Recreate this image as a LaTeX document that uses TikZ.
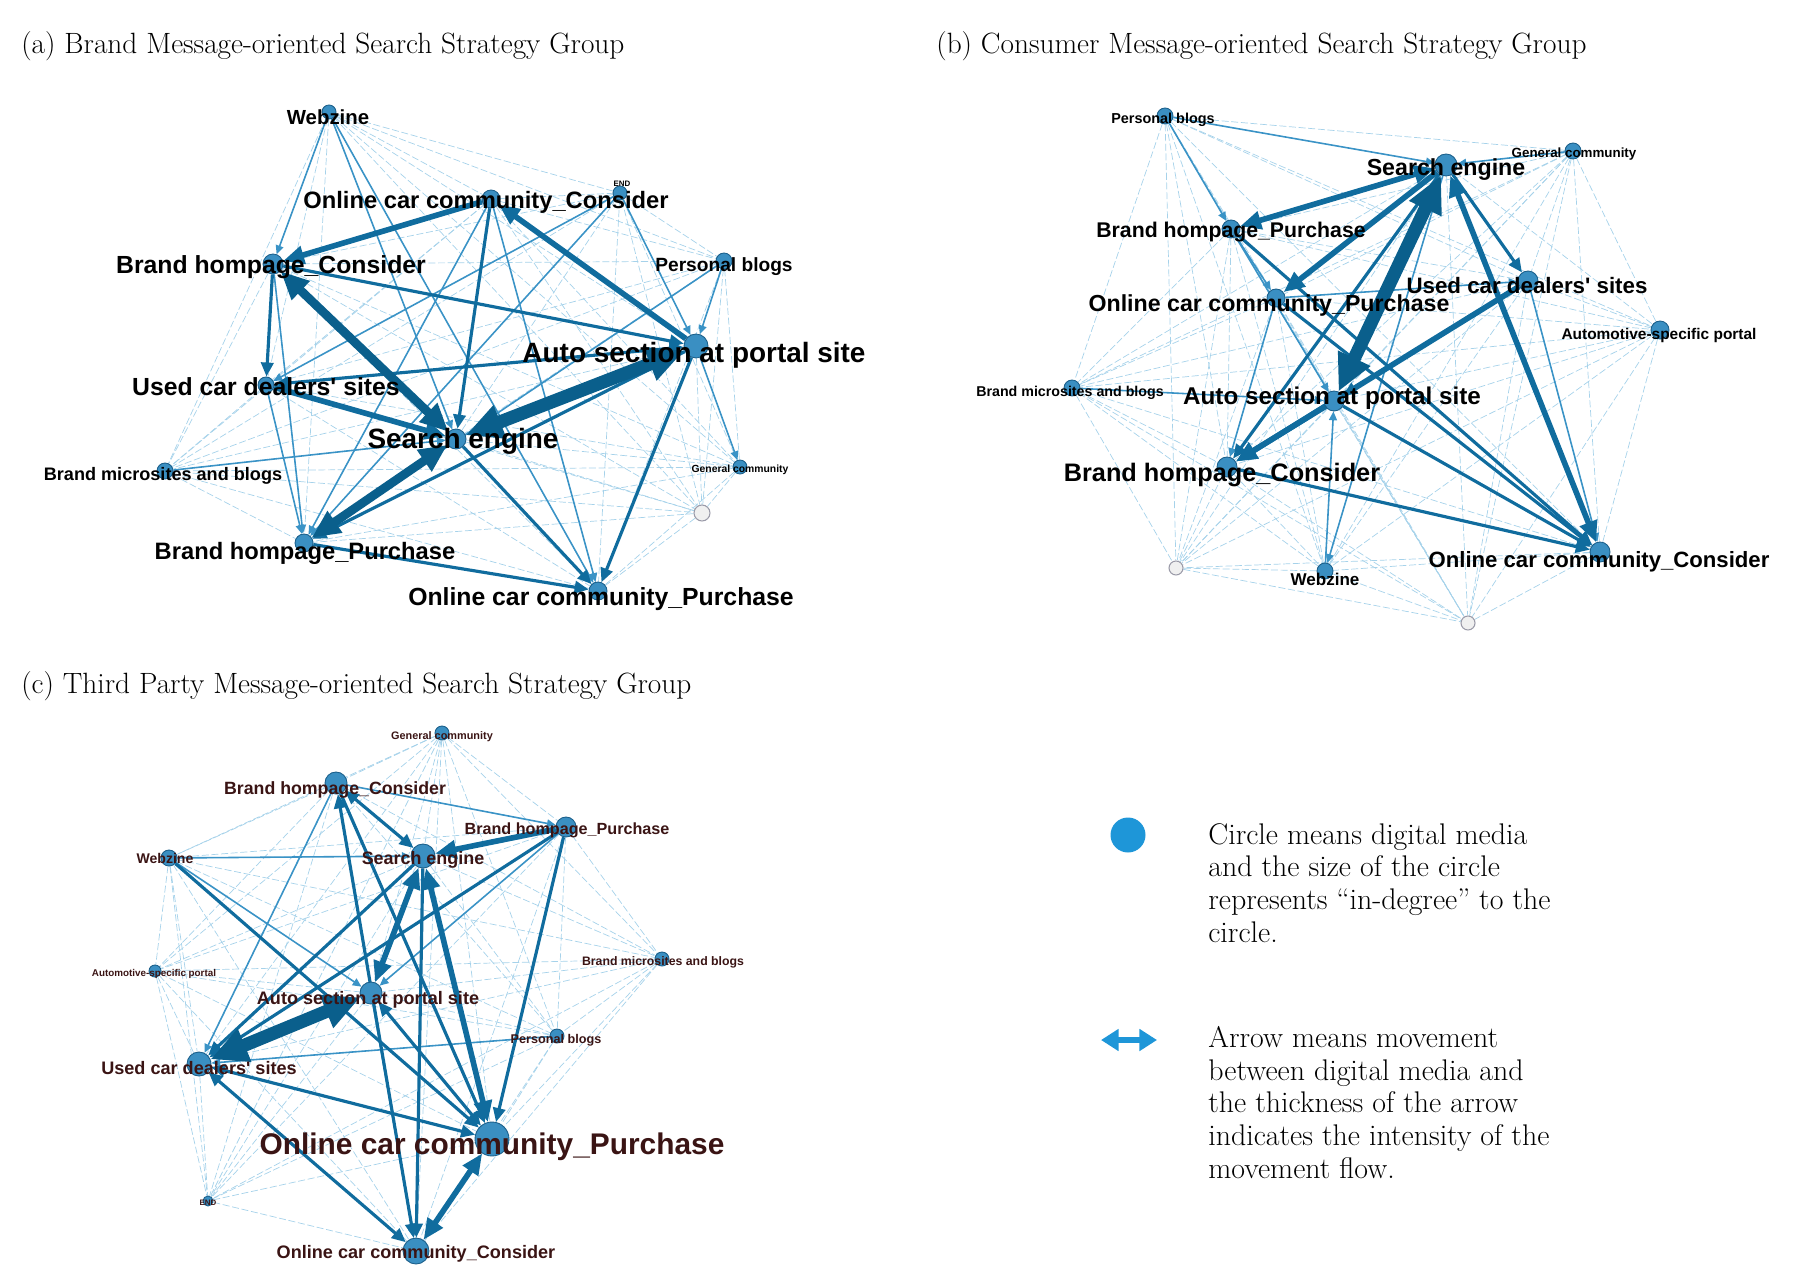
\documentclass[tikz,border=0pt]{standalone}
\usepackage{fontspec}
\newfontfamily\lblfont{Liberation Sans}
\usetikzlibrary{arrows.meta,backgrounds}
\definecolor{dotblue}{HTML}{3A8FC2}
\definecolor{dotedge}{HTML}{1B5F8A}
\definecolor{faintblue}{HTML}{A6D2EA}
\definecolor{midblue}{HTML}{3A93C6}
\definecolor{flowblue}{HTML}{106C9E}
\definecolor{darkflow}{HTML}{0A5F8C}
\definecolor{lblred}{HTML}{3A1414}
\definecolor{keyblue}{HTML}{1E96D8}
\definecolor{grayring}{HTML}{9A9AA8}
\tikzset{
  dot/.style={circle, fill=dotblue, draw=dotedge, line width=0.5pt, inner sep=0pt, minimum size=#1*0.02cm},
  ghost/.style={circle, fill=gray!12, draw=grayring, line width=0.6pt, inner sep=0pt, minimum size=#1*0.02cm},
  lbl/.style={font=\lblfont\bfseries\fontsize{#1}{#1}\selectfont, inner sep=0pt},
  lblc/.style={lbl=#1, text=lblred},
  ttl/.style={font=\fontsize{16.7}{19}\selectfont, inner sep=0pt},
  keytext/.style={anchor=north west, align=left, inner sep=0pt, font=\fontsize{17}{18.6}\selectfont},
  faint/.style={draw=faintblue, line width=0.4pt, dash pattern=on 4pt off 1.5pt},
  w1/.style={draw=midblue, line width=0.9pt, >={Triangle[length=5pt,width=4.5pt]}, ->},
  w2/.style={draw=flowblue, line width=1.8pt, >={Triangle[length=8pt,width=7pt]}, ->},
  w3/.style={draw=flowblue, line width=3.2pt, >={Triangle[length=12pt,width=10pt]}, ->},
  w4/.style={draw=darkflow, line width=5pt, >={Triangle[length=16pt,width=14pt]}, ->},
  w5/.style={draw=darkflow, line width=7.5pt, >={Triangle[length=21pt,width=19pt]}, ->},
}
\begin{document}
\begin{tikzpicture}[x=0.02cm, y=-0.02cm]
\useasboundingbox (0,0) rectangle (1811,1280);
% titles
\node[ttl, anchor=west] (ta) at (21,46) {(a) Brand Message-oriented Search Strategy Group};
\node[ttl, anchor=west] (tb) at (936,46) {(b) Consumer Message-oriented Search Strategy Group};
\node[ttl, anchor=west] (tc) at (21,686) {(c) Third Party Message-oriented Search Strategy Group};

% (a) media
\node[dot=14] (a-wz) at (329,112) {};
\node[dot=18] (a-occc) at (491,199) {};
\node[dot=14] (a-end) at (620,193) {};
\node[dot=20] (a-bhc) at (273,264) {};
\node[dot=16] (a-pb) at (724,261) {};
\node[dot=24] (a-as) at (696,346) {};
\node[dot=16] (a-ucd) at (266,385) {};
\node[dot=20] (a-se) at (456,439) {};
\node[dot=16] (a-bmb) at (165,471) {};
\node[dot=14] (a-gc) at (740,467) {};
\node[ghost=16] (a-gr) at (702,513) {};
\node[dot=18] (a-bhp) at (304,543) {};
\node[dot=18] (a-occp) at (598,591) {};
% (a) flows
\begin{scope}[on background layer]
  \foreach \u [count=\i] in {wz,occc,end,bhc,pb,as,ucd,se,bmb,gc,gr,bhp,occp}
    \foreach \v [count=\j] in {wz,occc,end,bhc,pb,as,ucd,se,bmb,gc,gr,bhp,occp}
      {\ifnum\j>\i \draw[faint] (a-\u) -- (a-\v); \fi}
  \draw[w1] (a-ucd) -- (a-bhp);
  \draw[w1] (a-bhc) -- (a-bhp);
  \draw[w1] (a-wz) -- (a-se);
  \draw[w1] (a-wz) -- (a-occp);
  \draw[w1] (a-end) -- (a-bhp);
  \draw[w1] (a-end) -- (a-as);
  \draw[w1] (a-occc) -- (a-bhp);
  \draw[w1] (a-occc) -- (a-occp);
  \draw[w1] (a-pb) -- (a-as);
  \draw[w1] (a-as) -- (a-gc);
  \draw[w1] (a-wz) -- (a-bhc);
  \draw[w1] (a-end) -- (a-ucd);
  \draw[w1] (a-pb) -- (a-bhp);
  \draw[w1] (a-bmb) -- (a-se);
  \draw[w2] (a-bhc) -- (a-as);
  \draw[w2,<->] (a-ucd) -- (a-as);
  \draw[w2] (a-as) -- (a-occp);
  \draw[w2] (a-se) -- (a-occp);
  \draw[w2] (a-bhp) -- (a-occp);
  \draw[w2] (a-bhc) -- (a-ucd);
  \draw[w2] (a-occc) -- (a-se);
  \draw[w2] (a-as) -- (a-bhp);
  \draw[w3] (a-ucd) -- (a-se);
  \draw[w3] (a-occc) -- (a-bhc);
  \draw[w3] (a-as) -- (a-occc);
  \draw[w4,<->] (a-se) -- (a-bhp);
  \draw[w4,<->] (a-se) -- (a-bhc);
  \draw[w5,<->] (a-se) -- (a-as);
\end{scope}
% (a) labels
\node[lbl=11.6] (a-wz-t) at (328,117) {Webzine};
\node[lbl=13.5] (a-occc-t) at (486,202) {Online car community\_Consider};
\node[lbl=4.5] (a-end-t) at (622,184) {END};
\node[lbl=14.1] (a-bhc-t) at (271,267) {Brand hompage\_Consider};
\node[lbl=10.9] (a-pb-t) at (724,267) {Personal blogs};
\node[lbl=15.9] (a-as-t) at (694,355) {Auto section at portal site};
\node[lbl=14.1] (a-ucd-t) at (266,387) {Used car dealers' sites};
\node[lbl=15.9] (a-se-t) at (463,441) {Search engine};
\node[lbl=10.3] (a-bmb-t) at (163,476) {Brand microsites and blogs};
\node[lbl=5.9] (a-gc-t) at (740,470) {General community};
\node[lbl=13.5] (a-bhp-t) at (305,553) {Brand hompage\_Purchase};
\node[lbl=14.1] (a-occp-t) at (601,599) {Online car community\_Purchase};

% (b) media
\node[dot=16] (b-pb) at (1165,116) {};
\node[dot=22] (b-se) at (1446,165) {};
\node[dot=16] (b-gc) at (1573,151) {};
\node[dot=18] (b-bhp) at (1231,229) {};
\node[dot=20] (b-ucd) at (1528,281) {};
\node[dot=18] (b-occp) at (1276,298) {};
\node[dot=18] (b-asp) at (1660,330) {};
\node[dot=16] (b-bmb) at (1072,388) {};
\node[dot=20] (b-as) at (1334,401) {};
\node[dot=20] (b-bhc) at (1227,467) {};
\node[dot=20] (b-occc) at (1600,552) {};
\node[dot=16] (b-wz) at (1325,571) {};
\node[ghost=14] (b-gr) at (1176,568) {};
\node[ghost=14] (b-end) at (1468,623) {};
% (b) flows
\begin{scope}[on background layer]
  \foreach \u [count=\i] in {pb,se,gc,bhp,ucd,occp,asp,bmb,as,bhc,occc,wz,gr,end}
    \foreach \v [count=\j] in {pb,se,gc,bhp,ucd,occp,asp,bmb,as,bhc,occc,wz,gr,end}
      {\ifnum\j>\i \draw[faint] (b-\u) -- (b-\v); \fi}
  \draw[w1] (b-bhp) -- (b-occp);
  \draw[w1] (b-occp) -- (b-bhc);
  \draw[w1] (b-wz) -- (b-as);
  \draw[w1] (b-pb) -- (b-bhp);
  \draw[w1] (b-pb) -- (b-se);
  \draw[w1] (b-bmb) -- (b-as);
  \draw[w1] (b-gc) -- (b-se);
  \draw[w1] (b-ucd) -- (b-occc);
  \draw[w1] (b-se) -- (b-wz);
  \draw[w1] (b-occp) -- (b-ucd);
  \draw[w1] (b-bhp) -- (b-as);
  \draw[w2] (b-se) -- (b-ucd);
  \draw[w2] (b-ucd) -- (b-as);
  \draw[w2] (b-se) -- (b-bhc);
  \draw[w2] (b-bhp) -- (b-occc);
  \draw[w2] (b-occp) -- (b-occc);
  \draw[w2] (b-as) -- (b-occc);
  \draw[w2] (b-bhc) -- (b-occc);
  \draw[w3,<->] (b-se) -- (b-bhp);
  \draw[w3] (b-se) -- (b-occp);
  \draw[w3,<->] (b-se) -- (b-occc);
  \draw[w3] (b-ucd) -- (b-bhc);
  \draw[w3] (b-as) -- (b-bhc);
  \draw[w5,<->] (b-se) -- (b-as);
\end{scope}
% (b) labels
\node[lbl=8.2] (b-pb-t) at (1163,120) {Personal blogs};
\node[lbl=13.2] (b-se-t) at (1446,170) {Search engine};
\node[lbl=7.6] (b-gc-t) at (1574,154) {General community};
\node[lbl=12.1] (b-bhp-t) at (1231,232) {Brand hompage\_Purchase};
\node[lbl=12.7] (b-ucd-t) at (1527,286) {Used car dealers' sites};
\node[lbl=13.2] (b-occp-t) at (1269,306) {Online car community\_Purchase};
\node[lbl=8.8] (b-asp-t) at (1659,336) {Automotive-specific portal};
\node[lbl=8.1] (b-bmb-t) at (1070,393) {Brand microsites and blogs};
\node[lbl=13.8] (b-as-t) at (1332,398) {Auto section at portal site};
\node[lbl=14.4] (b-bhc-t) at (1222,475) {Brand hompage\_Consider};
\node[lbl=12.6] (b-occc-t) at (1599,562) {Online car community\_Consider};
\node[lbl=9.7] (b-wz-t) at (1325,579) {Webzine};

% (c) media
\node[dot=14] (c-gc) at (442,733) {};
\node[dot=22] (c-bhc) at (336,783) {};
\node[dot=20] (c-bhp) at (566,827) {};
\node[dot=16] (c-wz) at (169,858) {};
\node[dot=24] (c-se) at (423,856) {};
\node[dot=14] (c-bmb) at (662,959) {};
\node[dot=12] (c-asp) at (155,971) {};
\node[dot=22] (c-as) at (371,993) {};
\node[dot=14] (c-pb) at (557,1036) {};
\node[dot=24] (c-ucd) at (199,1064) {};
\node[dot=34] (c-occp) at (492,1139) {};
\node[dot=10] (c-end) at (208,1201) {};
\node[dot=26] (c-occc) at (416,1251) {};
% (c) flows
\begin{scope}[on background layer]
  \foreach \u [count=\i] in {gc,bhc,bhp,wz,se,bmb,asp,as,pb,ucd,occp,end,occc}
    \foreach \v [count=\j] in {gc,bhc,bhp,wz,se,bmb,asp,as,pb,ucd,occp,end,occc}
      {\ifnum\j>\i \draw[faint] (c-\u) -- (c-\v); \fi}
  \draw[w1] (c-wz) -- (c-as);
  \draw[w1] (c-bhc) -- (c-ucd);
  \draw[w1] (c-bhp) -- (c-as);
  \draw[w1] (c-bhc) -- (c-bhp);
  \draw[w1] (c-wz) -- (c-se);
  \draw[w1] (c-pb) -- (c-ucd);
  \draw[w1] (c-as) -- (c-occc);
  \draw[w2] (c-wz) -- (c-occp);
  \draw[w2,<->] (c-bhc) -- (c-se);
  \draw[w2,<->] (c-ucd) -- (c-occp);
  \draw[w2,<->] (c-ucd) -- (c-occc);
  \draw[w2,<->] (c-as) -- (c-occp);
  \draw[w2] (c-bhc) -- (c-occp);
  \draw[w2,<->] (c-bhc) -- (c-occc);
  \draw[w2] (c-se) -- (c-occc);
  \draw[w2] (c-bhp) -- (c-occp);
  \draw[w2] (c-bhp) -- (c-ucd);
  \draw[w2] (c-se) -- (c-ucd);
  \draw[w3] (c-bhp) -- (c-se);
  \draw[w3,<->] (c-se) -- (c-as);
  \draw[w3,<->] (c-se) -- (c-occp);
  \draw[w3,<->] (c-occc) -- (c-occp);
  \draw[w5,<->] (c-as) -- (c-ucd);
\end{scope}
% (c) labels
\node[lblc=6.2] (c-gc-t) at (442,737) {General community};
\node[lblc=10.1] (c-bhc-t) at (335,790) {Brand hompage\_Consider};
\node[lblc=9.2] (c-bhp-t) at (567,830) {Brand hompage\_Purchase};
\node[lblc=8] (c-wz-t) at (165,858) {Webzine};
\node[lblc=10.2] (c-se-t) at (423,860) {Search engine};
\node[lblc=7] (c-bmb-t) at (663,962) {Brand microsites and blogs};
\node[lblc=5.6] (c-asp-t) at (154,974) {Automotive-specific portal};
\node[lblc=10.3] (c-as-t) at (368,1000) {Auto section at portal site};
\node[lblc=7.2] (c-pb-t) at (556,1040) {Personal blogs};
\node[lblc=10.3] (c-ucd-t) at (199,1068) {Used car dealers' sites};
\node[lblc=17] (c-occp-t) at (492,1147) {Online car community\_Purchase};
\node[lblc=4.5] (c-end-t) at (208,1203) {END};
\node[lblc=10.3] (c-occc-t) at (416,1254) {Online car community\_Consider};

% key
\node[circle, fill=keyblue, inner sep=0pt, minimum size=35*0.02cm] (kdot) at (1128,835) {};
\node[keytext] (kdot-t) at (1208,823)
  {Circle means digital media\\and the size of the circle\\represents ``in-degree'' to the\\circle.};
\coordinate (kl) at (1101,1040);
\coordinate (kr) at (1157,1040);
\draw[keyblue, line width=3pt, {Triangle[length=10pt,width=12pt]}-{Triangle[length=10pt,width=12pt]}] (kl) -- (kr);
\node[keytext] (karr-t) at (1208,1026)
  {Arrow means movement\\between digital media and\\the thickness of the arrow\\indicates the intensity of the\\movement flow.};
\end{tikzpicture}
\end{document}
